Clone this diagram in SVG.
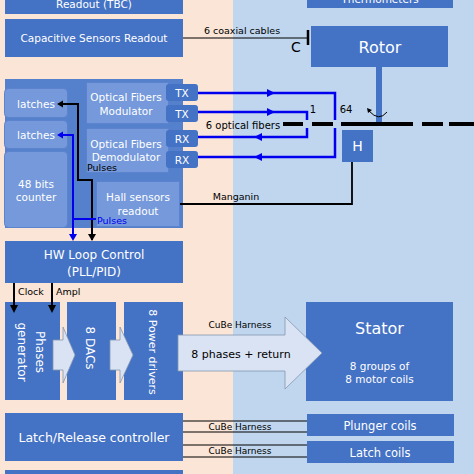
<svg xmlns="http://www.w3.org/2000/svg" width="474" height="474" viewBox="0 0 474 474">
<defs>
<style>
.b{fill:#4472C4}
.o{fill:#5580CC}
.i{fill:#7599DA;stroke:#5B83CE;stroke-width:1}
.t{font-family:"DejaVu Sans","Liberation Sans",sans-serif;font-size:10.5px;fill:#fff;text-anchor:middle}
.k{font-family:"DejaVu Sans","Liberation Sans",sans-serif;font-size:9.5px;fill:#000}
.bl{fill:none;stroke:#0000EE;stroke-width:2.5}
.blk{fill:none;stroke:#000;stroke-width:2}
.la{fill:#DAE3F3;stroke:#8497B0;stroke-width:0.8}
</style>
</defs>
<rect x="0" y="0" width="233" height="474" fill="#FBE5D6"/>
<rect x="233" y="0" width="241" height="474" fill="#BFD6EE"/>

<g id="tbc"><rect class="b" x="5" y="-10" width="178" height="24"/><text class="t" x="94" y="8">Readout (TBC)</text></g>
<g id="thermo"><rect class="b" x="307" y="-10" width="146" height="18"/><text class="t" x="380" y="3">Thermometers</text></g>
<g id="cap"><rect class="b" x="5" y="19" width="178" height="38"/><text class="t" x="94" y="42">Capacitive Sensors Readout</text></g>
<g id="rotor"><rect class="b" x="311" y="26" width="137" height="41"/><text class="t" x="380" y="53" style="font-size:16px">Rotor</text></g>

<g id="fpga">
<rect class="o" x="5" y="79" width="178" height="149"/>
<g id="latches1"><rect class="i" x="4.5" y="88.5" width="63" height="29" rx="4"/><text class="t" x="36" y="108">latches</text></g>
<g id="latches2"><rect class="i" x="4.5" y="120.5" width="63" height="28" rx="4"/><text class="t" x="36" y="139">latches</text></g>
<g id="counter"><rect class="i" x="4.5" y="151.5" width="63" height="76" rx="4"/><text class="t" x="36" y="188">48 bits</text><text class="t" x="36" y="201">counter</text></g>
<g id="mod"><rect class="i" x="86.5" y="82.5" width="82" height="41"/><text class="t" x="126" y="101">Optical Fibers</text><text class="t" x="126" y="115">Modulator</text></g>
<g id="demod"><rect class="i" x="86.5" y="128.5" width="82" height="44"/><text class="t" x="126" y="148">Optical Fibers</text><text class="t" x="126" y="161">Demodulator</text></g>
<g id="tx1"><rect class="b" x="166" y="84" width="32" height="17" rx="3"/><text class="t" x="182" y="96.5">TX</text></g>
<g id="tx2"><rect class="b" x="166" y="105" width="32" height="17" rx="3"/><text class="t" x="182" y="117.5">TX</text></g>
<g id="rx1"><rect class="b" x="166" y="130" width="32" height="17" rx="3"/><text class="t" x="182" y="142.5">RX</text></g>
<g id="rx2"><rect class="b" x="166" y="151" width="32" height="17" rx="3"/><text class="t" x="182" y="163.5">RX</text></g>
<g id="hall"><rect class="i" x="96.5" y="181.5" width="83" height="45"/><text class="t" x="138" y="201">Hall sensors</text><text class="t" x="138" y="215">readout</text></g>
</g>

<g id="hw"><rect class="b" x="5" y="241" width="178" height="42"/><text class="t" x="94" y="259" style="font-size:12px">HW Loop Control</text><text class="t" x="94" y="276" style="font-size:12px">(PLL/PID)</text></g>
<g id="phases"><rect class="b" x="5" y="302" width="55" height="98"/><text class="t" transform="translate(40,352) rotate(90)" y="4" style="font-size:12px">Phases</text><text class="t" transform="translate(22,352) rotate(90)" y="4" style="font-size:12px">generator</text></g>
<g id="dacs"><rect class="b" x="67" y="302" width="49" height="98"/><text class="t" transform="translate(90,348) rotate(90)" y="4" style="font-size:12px">8 DACs</text></g>
<g id="drivers"><rect class="b" x="124" y="302" width="59" height="98"/><text class="t" transform="translate(153,352) rotate(90)" y="4" style="font-size:11px">8 Power drivers</text></g>
<g id="stator"><rect class="b" x="306" y="302" width="147" height="99"/><text class="t" x="379.5" y="334" style="font-size:16px">Stator</text><text class="t" x="379.5" y="370">8 groups of</text><text class="t" x="379.5" y="383">8 motor coils</text></g>
<g id="latchctl"><rect class="b" x="5" y="413" width="178" height="48"/><text class="t" x="94" y="442" style="font-size:12.5px">Latch/Release controller</text></g>
<g id="bottom"><rect class="b" x="5" y="470" width="178" height="10"/></g>
<g id="plunger"><rect class="b" x="307" y="414" width="147" height="22"/><text class="t" x="380" y="430" style="font-size:11.5px">Plunger coils</text></g>
<g id="latchcoils"><rect class="b" x="307" y="441" width="147" height="22"/><text class="t" x="380" y="457" style="font-size:11.5px">Latch coils</text></g>
<g id="hbox"><rect class="b" x="342" y="130" width="31" height="32"/><text class="t" x="357.5" y="151" style="font-size:14px">H</text></g>

<g id="connectors">
<rect x="376" y="67" width="6" height="57" fill="#4472C4"/>
<path d="M387,112 Q379,122 369,111" fill="none" stroke="#000" stroke-width="1"/>
<path d="M367,108 L372,110 L368,113z" fill="#000"/>
<line x1="183" y1="38" x2="307" y2="38" stroke="#000" stroke-width="1.2"/>
<line x1="308" y1="30" x2="308" y2="45" stroke="#000" stroke-width="2.5"/>
<text class="k" x="242" y="34" text-anchor="middle">6 coaxial cables</text>
<text x="296" y="52" font-family="DejaVu Sans,sans-serif" font-size="14" text-anchor="middle">C</text>

<path d="M283,124H303M312,124H333M341,124H413M422,124H443M449,124H474" stroke="#000" stroke-width="4" fill="none"/>
<text class="k" x="243" y="129" text-anchor="middle" style="font-size:10px">6 optical fibers</text>
<text class="k" x="313" y="113" text-anchor="middle" style="font-size:10px">1</text>
<text class="k" x="346" y="113" text-anchor="middle" style="font-size:10px">64</text>

<path class="bl" d="M198,93H335V120M335,128V157H198"/>
<path class="bl" d="M198,112H307V120M307,128V137H198"/>
<path d="M267,89L275,93L267,97z" fill="#0000EE"/>
<path d="M267,108L275,112L267,116z" fill="#0000EE"/>
<path d="M262,133L254,137L262,141z" fill="#0000EE"/>
<path d="M262,153L254,157L262,161z" fill="#0000EE"/>

<path class="blk" d="M352,162V204H180" style="stroke-width:1.8"/>
<text class="k" x="236" y="200" text-anchor="middle">Manganin</text>

<path class="blk" d="M92,240V180H78V104H62" style="stroke-width:2"/>
<path d="M57,104L63,100.5L63,107.5z" fill="#000"/>
<path d="M88,234L96,234L92,241z" fill="#000"/>
<text class="k" x="102" y="171" text-anchor="middle">Pulses</text>

<path class="bl" d="M96,219H73V135H62" style="stroke-width:2"/>
<path class="bl" d="M73,219V236" style="stroke-width:2"/>
<path d="M57,135L63,131.5L63,138.5z" fill="#0000EE"/>
<path d="M69,234L77,234L73,241z" fill="#0000EE"/>
<text x="112" y="224" font-family="DejaVu Sans,sans-serif" font-size="9.5" fill="#0000EE" text-anchor="middle">Pulses</text>

<line x1="14" y1="283" x2="14" y2="306" stroke="#000" stroke-width="2"/>
<path d="M10,305L18,305L14,313z" fill="#000"/>
<line x1="52" y1="283" x2="52" y2="306" stroke="#000" stroke-width="2"/>
<path d="M48,305L56,305L52,313z" fill="#000"/>
<text class="k" x="18" y="295">Clock</text>
<text class="k" x="56" y="295">Ampl</text>

<path class="la" d="M53,340H63V327L75,355L63,383V370H53z"/>
<path class="la" d="M110,340H120V327L133,355L120,383V370H110z"/>
<path class="la" d="M178,335H285V317L322,353L285,389V371H178z"/>
<text class="k" x="241" y="358" text-anchor="middle" style="font-size:11px">8 phases + return</text>
<text class="k" x="240" y="328" text-anchor="middle" style="font-size:9px">CuBe Harness</text>

<path d="M183,421H307M183,432H307M183,445H307M183,457H307" stroke="#000" stroke-width="1"/>
<text class="k" x="240" y="430" text-anchor="middle" style="font-size:9px">CuBe Harness</text>
<text class="k" x="240" y="454" text-anchor="middle" style="font-size:9px">CuBe Harness</text>
</g>
</svg>
